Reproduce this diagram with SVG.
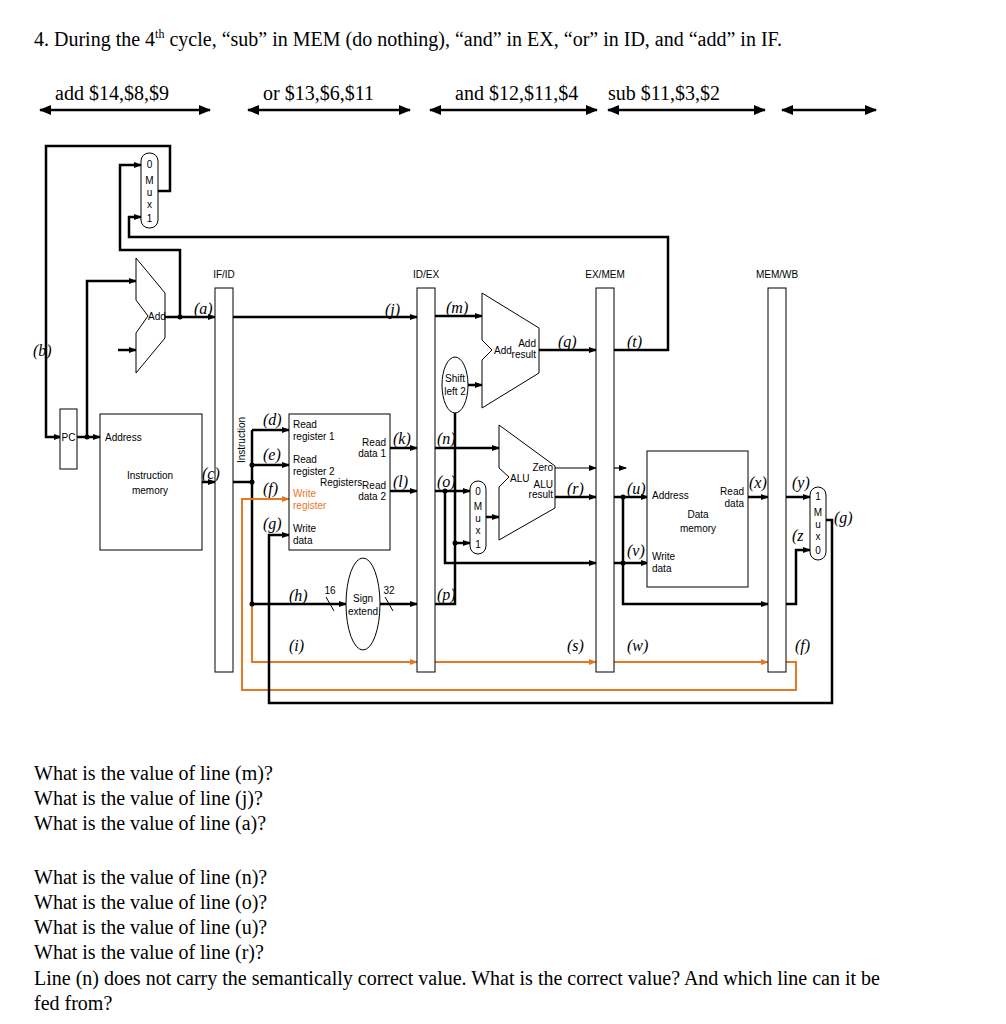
<svg xmlns="http://www.w3.org/2000/svg" width="1006" height="1024" viewBox="0 0 1006 1024">
<defs>
<marker id="a" markerWidth="8" markerHeight="8" refX="7" refY="4" orient="auto" markerUnits="userSpaceOnUse"><path d="M0,1 L8,4 L0,7 Z" fill="#000"/></marker>
<marker id="ao" markerWidth="8" markerHeight="8" refX="7" refY="4" orient="auto" markerUnits="userSpaceOnUse"><path d="M0,1 L8,4 L0,7 Z" fill="#e87722"/></marker>
<marker id="big" markerWidth="12" markerHeight="12" refX="11" refY="6" orient="auto-start-reverse" markerUnits="userSpaceOnUse"><path d="M0,1 L12,6 L0,11 Z" fill="#000"/></marker>
</defs>
<style>
.t{font-family:"Liberation Serif",serif;font-size:20px;fill:#000}
.s{font-family:"Liberation Sans",Arial,sans-serif;font-size:10px;fill:#000}
.l{font-family:"Liberation Serif",serif;font-style:italic;font-size:16px;fill:#000}
.w{stroke:#000;stroke-width:2.5;fill:none}
.o{stroke:#e87722;stroke-width:2;fill:none}
.b{stroke:#000;stroke-width:1;fill:#fff}
.th{stroke:#000;stroke-width:1.2;fill:none}
</style>
<rect width="1006" height="1024" fill="#fff"/>
<text class="t" x="34" y="46">4. During the 4<tspan font-size="12" dy="-8">th</tspan><tspan dy="8"> cycle, “sub” in MEM (do nothing), “and” in EX, “or” in ID, and “add” in IF.</tspan></text>
<g id="stages">
<text class="t" x="55" y="100" font-size="18">add $14,$8,$9</text>
<text class="t" x="263" y="100" font-size="18">or $13,$6,$11</text>
<text class="t" x="455" y="100" font-size="18">and $12,$11,$4</text>
<text class="t" x="608" y="100" font-size="18">sub $11,$3,$2</text>
<g stroke="#000" stroke-width="2.5" marker-start="url(#big)" marker-end="url(#big)">
<line x1="40" y1="110" x2="210" y2="110"/><line x1="248" y1="110" x2="410" y2="110"/><line x1="430" y1="110" x2="597" y2="110"/><line x1="608" y1="110" x2="765" y2="110"/><line x1="782" y1="110" x2="876" y2="110"/>
</g>
</g>
<g id="connectors">
<polyline class="w" points="158,191 170,191 170,146 46,146 46,437 61,437" marker-end="url(#a)"/>
<polyline class="w" points="180,317 180,250 120,250 120,165 141,165" marker-end="url(#a)"/>
<polyline class="w" points="614,350 668,350 668,237 129,237 129,217 141,217" marker-end="url(#a)"/>
<line class="w" x1="165" y1="317" x2="215" y2="317" marker-end="url(#a)"/>
<polyline class="w" points="87,437 87,281 136,281" marker-end="url(#a)"/>
<line class="w" x1="118" y1="350" x2="136" y2="350" marker-end="url(#a)"/>
<line class="w" x1="77" y1="437" x2="100" y2="437" marker-end="url(#a)"/>
<line class="w" x1="202" y1="482" x2="215" y2="482" marker-end="url(#a)"/>
<polyline class="w" points="233,482 252,482"/>
<line class="w" x1="252" y1="430" x2="252" y2="604"/>
<line class="w" x1="252" y1="430" x2="289" y2="430" marker-end="url(#a)"/>
<line class="w" x1="252" y1="465" x2="289" y2="465" marker-end="url(#a)"/>
<line class="w" x1="252" y1="604" x2="346" y2="604" marker-end="url(#a)"/>
<line class="w" x1="380" y1="604" x2="417" y2="604" marker-end="url(#a)"/>
<polyline class="o" points="252,604 252,662 417,662" marker-end="url(#ao)"/>
<polyline class="o" points="786,662 796,662 796,690 242,690 242,499 289,499" marker-end="url(#ao)"/>
<line class="o" x1="435" y1="662" x2="596" y2="662" marker-end="url(#ao)"/>
<line class="o" x1="614" y1="662" x2="768" y2="662" marker-end="url(#ao)"/>
<polyline class="w" points="826,520 832,520 832,703 269,703 269,535 289,535" marker-end="url(#a)"/>
<line class="w" x1="233" y1="317" x2="417" y2="317" marker-end="url(#a)"/>
<line class="w" x1="390" y1="448" x2="417" y2="448" marker-end="url(#a)"/>
<line class="w" x1="390" y1="491" x2="417" y2="491" marker-end="url(#a)"/>
<line class="w" x1="435" y1="316" x2="482" y2="316" marker-end="url(#a)"/>
<line class="w" x1="468" y1="385" x2="482" y2="385" marker-end="url(#a)"/>
<line class="w" x1="539" y1="350" x2="596" y2="350" marker-end="url(#a)"/>
<polyline class="w" points="435,604 455,604 455,413"/>
<line class="w" x1="455" y1="543" x2="470" y2="543" marker-end="url(#a)"/>
<line class="w" x1="435" y1="448" x2="499" y2="448" marker-end="url(#a)"/>
<line class="w" x1="435" y1="491" x2="470" y2="491" marker-end="url(#a)"/>
<polyline class="w" points="445,491 445,563 596,563" marker-end="url(#a)"/>
<line class="w" x1="486" y1="517" x2="499" y2="517" marker-end="url(#a)"/>
<line class="th" x1="555" y1="468" x2="596" y2="468" marker-end="url(#a)"/>
<line class="th" x1="614" y1="468" x2="626" y2="468" marker-end="url(#a)"/>
<line class="w" x1="555" y1="497" x2="596" y2="497" marker-end="url(#a)"/>
<line class="w" x1="614" y1="497" x2="648" y2="497" marker-end="url(#a)"/>
<polyline class="w" points="623,497 623,604 768,604" marker-end="url(#a)"/>
<line class="w" x1="614" y1="563" x2="648" y2="563" marker-end="url(#a)"/>
<line class="w" x1="748" y1="497" x2="768" y2="497" marker-end="url(#a)"/>
<line class="w" x1="786" y1="497" x2="810" y2="497" marker-end="url(#a)"/>
<polyline class="w" points="786,604 796,604 796,550 810,550" marker-end="url(#a)"/>
<g fill="#000"><circle cx="180" cy="317" r="2.5"/><circle cx="87" cy="437" r="2.5"/><circle cx="252" cy="482" r="2.5"/><circle cx="252" cy="465" r="2.5"/><circle cx="252" cy="604" r="2.5"/><circle cx="455" cy="543" r="2.5"/><circle cx="445" cy="491" r="2.5"/><circle cx="623" cy="497" r="2.5"/><circle cx="623" cy="563" r="2.5"/></g>
<line stroke="#000" x1="326" y1="597" x2="334" y2="611"/><line stroke="#000" x1="385" y1="597" x2="393" y2="611"/>
</g>
<g id="mux1"><rect class="b" x="141" y="153" width="17" height="75" rx="8"/><text class="s" x="149.5" y="168" text-anchor="middle">0</text><text class="s" x="149.5" y="184" text-anchor="middle">M</text><text class="s" x="149.5" y="196" text-anchor="middle">u</text><text class="s" x="149.5" y="208" text-anchor="middle">x</text><text class="s" x="149.5" y="222" text-anchor="middle">1</text></g>
<g id="add1"><polygon class="b" points="136,258 165,293 165,338 136,373 136,333 148,316 136,300"/><text class="s" x="148" y="320">Add</text></g>
<g id="pc"><rect class="b" x="60" y="409" width="17" height="60"/><text class="s" x="68.5" y="441" text-anchor="middle">PC</text></g>
<g id="imem"><rect class="b" x="100" y="414" width="102" height="136"/><text class="s" x="105" y="441">Address</text><text class="s" x="150" y="479" text-anchor="middle">Instruction</text><text class="s" x="150" y="494" text-anchor="middle">memory</text></g>
<g id="ifid"><rect class="b" x="215" y="288" width="18" height="384"/><text class="s" x="224" y="278" text-anchor="middle">IF/ID</text><text class="s" x="245" y="440" text-anchor="middle" transform="rotate(-90 245 440)">Instruction</text></g>
<g id="regs"><rect class="b" x="289" y="414" width="101" height="136"/>
<text class="s" x="293" y="428">Read</text><text class="s" x="293" y="440">register 1</text>
<text class="s" x="293" y="463">Read</text><text class="s" x="293" y="475">register 2</text>
<text class="s" x="320" y="486">Registers</text>
<text class="s" x="293" y="497" fill="#e87722" style="fill:#e87722">Write</text><text class="s" x="293" y="509" style="fill:#e87722">register</text>
<text class="s" x="293" y="532">Write</text><text class="s" x="293" y="544">data</text>
<text class="s" x="386" y="446" text-anchor="end">Read</text><text class="s" x="386" y="457" text-anchor="end">data 1</text>
<text class="s" x="386" y="489" text-anchor="end">Read</text><text class="s" x="386" y="500" text-anchor="end">data 2</text></g>
<g id="signext"><ellipse class="b" cx="363" cy="604" rx="17" ry="46"/><text class="s" x="363" y="602" text-anchor="middle">Sign</text><text class="s" x="363" y="615" text-anchor="middle">extend</text><text class="s" x="330" y="594" text-anchor="middle">16</text><text class="s" x="389" y="594" text-anchor="middle">32</text></g>
<g id="idex"><rect class="b" x="417" y="288" width="18" height="384"/><text class="s" x="426" y="278" text-anchor="middle">ID/EX</text></g>
<g id="shift"><ellipse class="b" cx="455" cy="385" rx="13" ry="28"/><text class="s" x="455" y="382" text-anchor="middle">Shift</text><text class="s" x="455" y="395" text-anchor="middle">left 2</text></g>
<g id="add2"><polygon class="b" points="482,293 539,328 539,373 482,408 482,360 492,350 482,340"/><text class="s" x="494" y="354">Add</text><text class="s" x="536" y="347" text-anchor="end">Add</text><text class="s" x="536" y="358" text-anchor="end">result</text></g>
<g id="mux2"><rect class="b" x="470" y="481" width="16" height="73" rx="8"/><text class="s" x="478" y="495" text-anchor="middle">0</text><text class="s" x="478" y="510" text-anchor="middle">M</text><text class="s" x="478" y="522" text-anchor="middle">u</text><text class="s" x="478" y="534" text-anchor="middle">x</text><text class="s" x="478" y="548" text-anchor="middle">1</text></g>
<g id="alu"><polygon class="b" points="499,425 555,466 555,508 499,540 499,487 509,477 499,468"/><text class="s" x="510" y="482">ALU</text><text class="s" x="553" y="471" text-anchor="end">Zero</text><text class="s" x="553" y="488" text-anchor="end">ALU</text><text class="s" x="553" y="498" text-anchor="end">result</text></g>
<g id="exmem"><rect class="b" x="596" y="288" width="18" height="384"/><text class="s" x="605" y="278" text-anchor="middle">EX/MEM</text></g>
<g id="dmem"><rect class="b" x="647" y="451" width="101" height="136"/><text class="s" x="652" y="499">Address</text><text class="s" x="698" y="518" text-anchor="middle">Data</text><text class="s" x="698" y="532" text-anchor="middle">memory</text><text class="s" x="744" y="495" text-anchor="end">Read</text><text class="s" x="744" y="507" text-anchor="end">data</text><text class="s" x="652" y="560">Write</text><text class="s" x="652" y="572">data</text></g>
<g id="memwb"><rect class="b" x="768" y="288" width="18" height="384"/><text class="s" x="777" y="278" text-anchor="middle">MEM/WB</text></g>
<g id="mux3"><rect class="b" x="810" y="487" width="16" height="73" rx="8"/><text class="s" x="818" y="500" text-anchor="middle">1</text><text class="s" x="818" y="516" text-anchor="middle">M</text><text class="s" x="818" y="528" text-anchor="middle">u</text><text class="s" x="818" y="540" text-anchor="middle">x</text><text class="s" x="818" y="554" text-anchor="middle">0</text></g>
<g id="labels">
<text class="l" x="194" y="314">(a)</text><text class="l" x="33" y="356">(b)</text><text class="l" x="202" y="479">(c)</text>
<text class="l" x="263" y="425">(d)</text><text class="l" x="263" y="460">(e)</text><text class="l" x="263" y="494">(f)</text><text class="l" x="263" y="529">(g)</text>
<text class="l" x="289" y="601">(h)</text><text class="l" x="289" y="651">(i)</text><text class="l" x="385" y="315">(j)</text>
<text class="l" x="393" y="444">(k)</text><text class="l" x="393" y="487">(l)</text><text class="l" x="446" y="313">(m)</text>
<text class="l" x="437" y="444">(n)</text><text class="l" x="437" y="487">(o)</text><text class="l" x="437" y="600">(p)</text>
<text class="l" x="558" y="347">(q)</text><text class="l" x="567" y="494">(r)</text><text class="l" x="567" y="651">(s)</text>
<text class="l" x="627" y="347">(t)</text><text class="l" x="627" y="494">(u)</text><text class="l" x="627" y="556">(v)</text><text class="l" x="627" y="651">(w)</text>
<text class="l" x="749" y="488">(x)</text><text class="l" x="792" y="488">(y)</text><text class="l" x="792" y="541">(z</text><text class="l" x="795" y="651">(f)</text><text class="l" x="834" y="523">(g)</text>
</g>
<g id="questions">
<text class="t" x="34" y="780">What is the value of line (m)?</text>
<text class="t" x="34" y="805">What is the value of line (j)?</text>
<text class="t" x="34" y="830">What is the value of line (a)?</text>
<text class="t" x="34" y="884">What is the value of line (n)?</text>
<text class="t" x="34" y="909">What is the value of line (o)?</text>
<text class="t" x="34" y="934">What is the value of line (u)?</text>
<text class="t" x="34" y="959">What is the value of line (r)?</text>
<text class="t" x="34" y="985">Line (n) does not carry the semantically correct value. What is the correct value? And which line can it be</text>
<text class="t" x="34" y="1010">fed from?</text>
</g>
</svg>
